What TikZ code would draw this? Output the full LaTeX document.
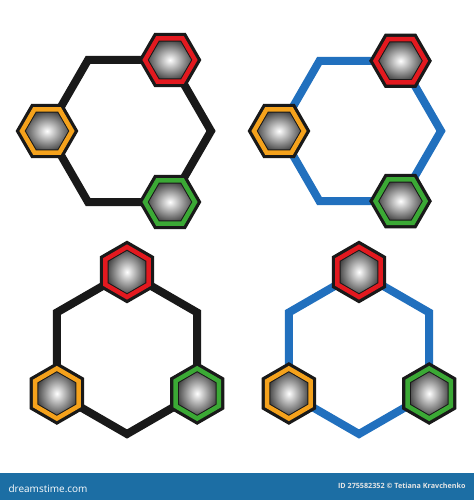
\documentclass[tikz,border=0pt]{standalone}
\usepackage{fontspec}
\usetikzlibrary{calc,positioning,shapes.geometric,backgrounds}
\newfontfamily\barfont{Open Sans}
\definecolor{ringred}{HTML}{E3191F}
\definecolor{ringorange}{HTML}{F5A21C}
\definecolor{ringgreen}{HTML}{3BA935}
\definecolor{linkblue}{HTML}{2170BE}
\definecolor{barblue}{HTML}{1C6EA4}
\tikzset{
	hexa/.style={regular polygon, regular polygon sides=6, minimum size=50pt, inner sep=0pt,
		shading=radial, inner color=white, outer color=black!78,
		preaction={draw=black!90, line width=11pt},
		draw=black!90, line width=1pt, double=#1, double distance=4.5pt},
	pointy/.style={shape border rotate=30},
	link/.style={draw=#1, line width=8pt, line join=miter},
}

\begin{document}
\begin{tikzpicture}[x=1pt, y=1pt]
	\useasboundingbox (0,0) rectangle (474,500);
	\coordinate (m1) at (129,369);
	\coordinate[right=231pt of m1] (m2);
	\coordinate (m3) at (127,147);
	\coordinate[right=232pt of m3] (m4);
	%
	\node[hexa=ringred] (r1) at ($(m1)+(60:82)$) {};
	\node[hexa=ringorange] (o1) at ($(m1)+(180:82)$) {};
	\node[hexa=ringgreen] (g1) at ($(m1)+(300:82)$) {};
	\coordinate (u1) at ($(m1)+(120:82)$);
	\coordinate (w1) at ($(m1)+(240:82)$);
	\coordinate (v1) at ($(m1)+(0:82)$);
	\node[hexa=ringred] (r2) at ($(m2)+(60:81)$) {};
	\node[hexa=ringorange] (o2) at ($(m2)+(180:81)$) {};
	\node[hexa=ringgreen] (g2) at ($(m2)+(300:81)$) {};
	\coordinate (u2) at ($(m2)+(120:81)$);
	\coordinate (w2) at ($(m2)+(240:81)$);
	\coordinate (v2) at ($(m2)+(0:81)$);
	\node[hexa=ringred, pointy] (r3) at ($(m3)+(90:81)$) {};
	\node[hexa=ringorange, pointy] (o3) at ($(m3)+(210:81)$) {};
	\node[hexa=ringgreen, pointy] (g3) at ($(m3)+(330:81)$) {};
	\coordinate (u3) at ($(m3)+(150:81)$);
	\coordinate (w3) at ($(m3)+(270:81)$);
	\coordinate (v3) at ($(m3)+(30:81)$);
	\node[hexa=ringred, pointy] (r4) at ($(m4)+(90:81)$) {};
	\node[hexa=ringorange, pointy] (o4) at ($(m4)+(210:81)$) {};
	\node[hexa=ringgreen, pointy] (g4) at ($(m4)+(330:81)$) {};
	\coordinate (u4) at ($(m4)+(150:81)$);
	\coordinate (w4) at ($(m4)+(270:81)$);
	\coordinate (v4) at ($(m4)+(30:81)$);
	%
	\begin{scope}[on background layer]
		\fill[white] (0,0) rectangle (474,500);
		\draw[link=black!90] (r1.center) -- (u1) -- (o1.center) -- (w1) -- (g1.center) -- (v1) -- cycle;
		\draw[link=linkblue] (r2.center) -- (u2) -- (o2.center) -- (w2) -- (g2.center) -- (v2) -- cycle;
		\draw[link=black!90] (r3.center) -- (u3) -- (o3.center) -- (w3) -- (g3.center) -- (v3) -- cycle;
		\draw[link=linkblue] (r4.center) -- (u4) -- (o4.center) -- (w4) -- (g4.center) -- (v4) -- cycle;
	\end{scope}
	%
	\fill[barblue] (0,0) rectangle (474,27);
	\node[anchor=base west, text=white, font=\barfont\fontsize{10}{12}\selectfont] (brand) at (5,8) {dreamstime.com};
	\node[anchor=base east, text=black!10, font=\barfont\bfseries\fontsize{7.2}{9}\selectfont] (credit) at (469,11) {ID 275582352 © Tetiana Kravchenko};
\end{tikzpicture}
\end{document}
